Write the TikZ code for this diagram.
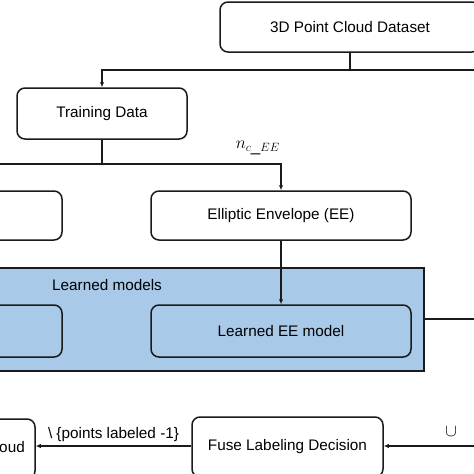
\documentclass[tikz,border=0pt]{standalone}
\usepackage{fontspec}
\setmainfont{Liberation Sans}
\usetikzlibrary{arrows.meta}
\definecolor{lblue}{HTML}{A9C9E9}
\definecolor{edge}{HTML}{1A1A1A}
\tikzset{
  box/.style={draw=edge, line width=1.5pt, rounded corners=8pt, inner sep=0pt, align=center, font=\fontsize{15.3}{18}\selectfont},
  conn/.style={draw=edge, line width=1.5pt},
  arr/.style={conn, -{Latex[length=5pt,width=4.5pt]}},
  lbl/.style={font=\fontsize{15.3}{18}\selectfont, inner sep=0pt},
}
\begin{document}
\begin{tikzpicture}[x=1pt,y=-1pt]
\useasboundingbox (0,0) rectangle (474,474);
\clip (0,0) rectangle (474,474);
\fill[white] (0,0) rectangle (474,474);
% blue group
\node[draw=edge, line width=1.5pt, fill=lblue, minimum width=444pt, minimum height=103pt, inner sep=0pt] (grp) at (202,319.5) {};
\node[lbl, anchor=west] (grplbl) at (52,285) {Learned models};
% boxes
\node[box, minimum width=260pt, minimum height=50pt] (ds) at (350,27) {3D Point Cloud Dataset};
\node[box, minimum width=170pt, minimum height=51pt] (td) at (102,113.5) {Training Data};
\node[box, minimum width=262pt, minimum height=49pt] (lf) at (-69,215.5) {};
\node[box, minimum width=260pt, minimum height=49pt] (ee) at (281,215.5) {Elliptic Envelope (EE)};
\node[box, minimum width=262pt, minimum height=52pt] (lm) at (-69,331) {};
\node[box, minimum width=260pt, minimum height=52pt] (lee) at (281,331) {Learned EE model};
\node[box, minimum width=191pt, minimum height=60pt] (fuse) at (287.5,447) {Fuse Labeling Decision};
\node[box, minimum width=160pt, minimum height=60pt] (pc) at (-45,449) {};
\node[lbl, anchor=east] (pctxt) at (25,447) {Point Cloud};
% connectors
\coordinate (j1) at (350,70);
\coordinate (j1r) at (480,70);
\draw[conn] (ds.south) -- (j1) -- (j1r);
\draw[arr] (j1) -| (td.north);
\coordinate (j2) at (102,164);
\coordinate (j2l) at (-10,164);
\draw[conn] (td.south) -- (j2);
\draw[conn] (j2l) -- (j2);
\draw[arr] (j2) -| node[pos=0.435, above=5pt, font=\fontsize{17}{20}\selectfont] (nlbl) {$n_{c\_EE}$} (ee.north);
\draw[arr] (ee.south) -- (lee.north);
\coordinate (gr) at (480,319);
\draw[conn] (grp.east |- gr) -- (gr);
\coordinate (ur) at (480,446);
\draw[arr] (ur) -- node[pos=0.3, above=5pt, font=\fontsize{18}{20}\selectfont] (ulbl) {$\cup$} (fuse.east |- ur);
\draw[arr] (fuse.west |- ur) -- node[above=4pt, lbl] (plbl) {\textbackslash\ \{points labeled -1\}} (pc.east |- ur);
\end{tikzpicture}
\end{document}
